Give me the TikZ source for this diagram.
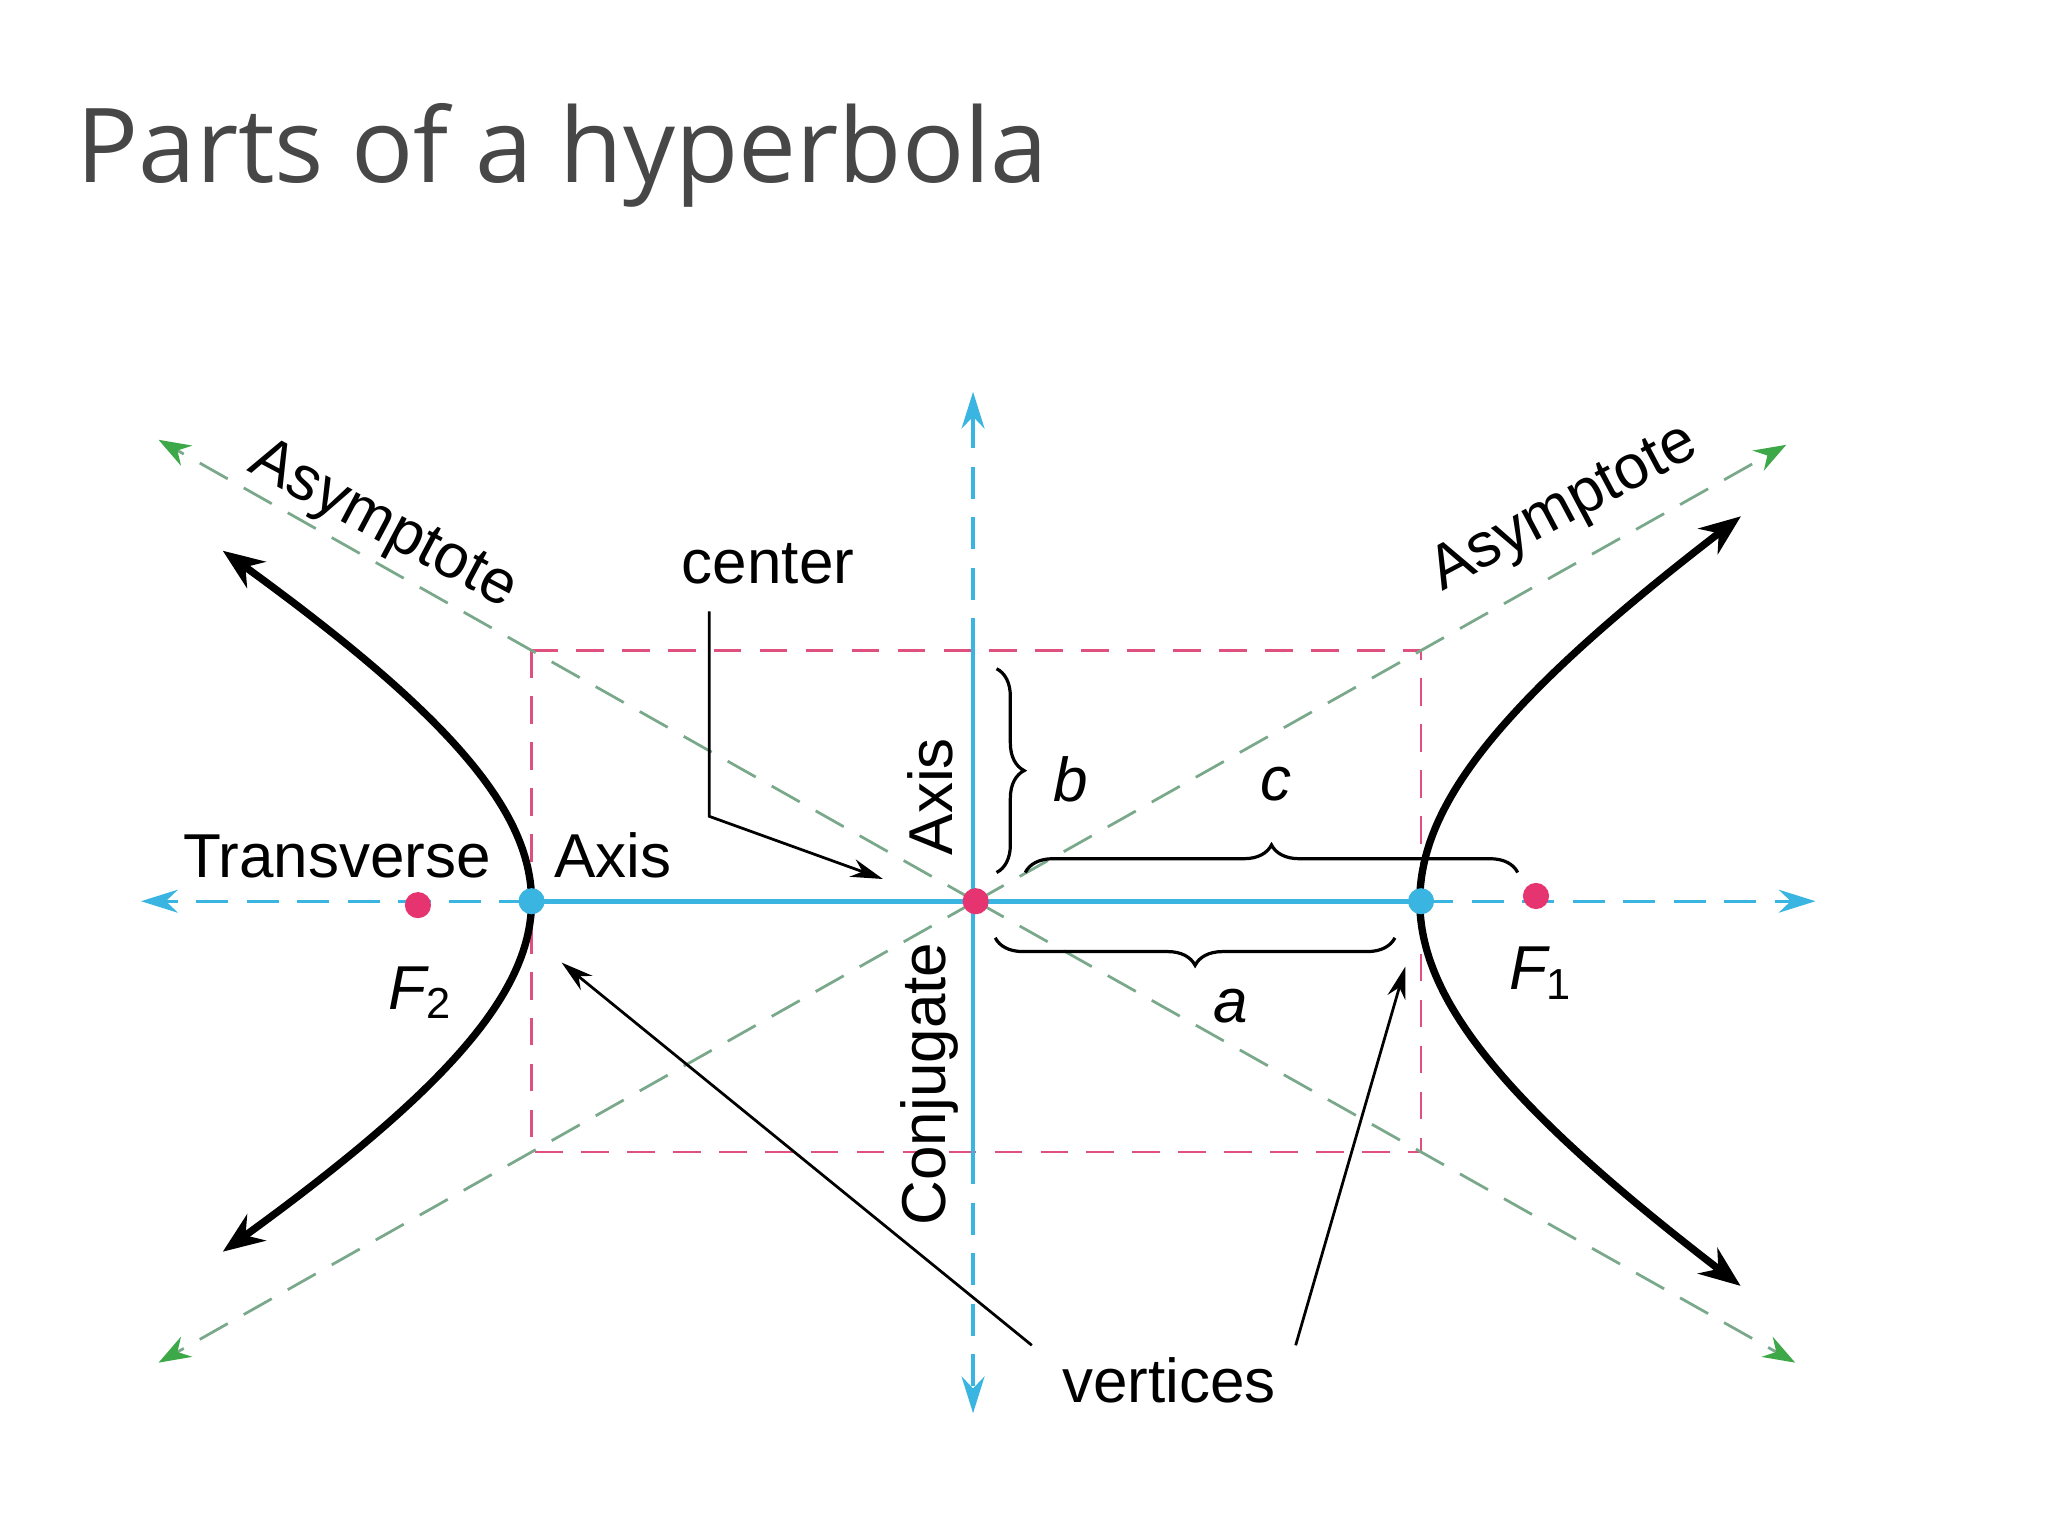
\documentclass[tikz,border=0pt]{standalone}
\usepackage{fontspec}
\setmainfont{Liberation Sans}
\newfontfamily\titlefont{Open Sans}
\usetikzlibrary{arrows.meta,decorations.pathreplacing,calc}
\definecolor{cy}{HTML}{3AB4E0}
\definecolor{pk}{HTML}{E0507E}
\definecolor{gr}{HTML}{7AA88A}
\definecolor{gra}{HTML}{3CA848}
\definecolor{dot}{HTML}{E63470}
\tikzset{
 lbl/.style={font=\fontsize{13.5}{14}\selectfont, inner sep=1pt},
 asy/.style={gr, dashed, dash pattern=on 7pt off 4pt, line width=0.6pt, -{Stealth[length=7pt,width=5pt,gra]}},
 branch/.style={line width=1.6pt},
 ptr/.style={line width=0.6pt,-{Stealth[length=7pt,width=4pt]}},
 brc/.style={decorate, decoration={brace, amplitude=6pt}, line width=0.7pt}
}
\begin{document}
\begin{tikzpicture}[x=0.01cm,y=-0.01cm]
\useasboundingbox (0,0) rectangle (1568,1176);
\fill[white] (0,0) rectangle (1568,1176);
\node[anchor=base west, inner sep=0, text=black!72, font=\titlefont\fontsize{22.5}{23}\selectfont] (title) at (58,140) {Parts of a hyperbola};
\coordinate (O) at (747,690);
\coordinate (V2) at (407,690);
\coordinate (V1) at (1088,690);
% box
\draw[pk, dashed, dash pattern=on 6pt off 4pt, line width=0.6pt] (407,498) rectangle (1088,882);
% asymptotes
\draw[asy] (O) -- ($(O)!1.84!(407,498)$);
\draw[asy] (O) -- ($(O)!1.84!(1088,882)$);
\draw[asy] (O) -- ($(O)!1.82!(1088,498)$);
\draw[asy] (O) -- ($(O)!1.84!(407,882)$);
% axes
\draw[cy, dashed, dash pattern=on 7pt off 4pt, line width=0.7pt, -{Stealth[length=8pt,width=5pt]}] (V2) -- (108,690);
\draw[cy, dashed, dash pattern=on 7pt off 4pt, line width=0.7pt, -{Stealth[length=8pt,width=5pt]}] (V1) -- (1390,690);
\draw[cy, line width=1pt] (V2) -- (V1);
\draw[cy, dashed, dash pattern=on 7pt off 4pt, line width=0.7pt, -{Stealth[length=8pt,width=5pt]}] (745,498) -- (745,300);
\draw[cy, dashed, dash pattern=on 7pt off 4pt, line width=0.7pt, -{Stealth[length=8pt,width=5pt]}] (745,882) -- (745,1082);
\draw[cy, line width=1pt] (745,498) -- (745,882);
% branches
\draw[branch, <->, >={Stealth[length=9pt,width=7pt]}] plot[domain=-1.12:1.12, samples=60, smooth] ({747-340*cosh(\x)}, {690+196*sinh(\x)});
\draw[branch, <->, >={Stealth[length=9pt,width=7pt]}] plot[domain=-1.14:1.14, samples=60, smooth] ({747+340*cosh(\x)}, {690+210*sinh(\x)});
% points
\fill[dot] (O) circle (10);
\fill[dot] (320,693) circle (10);
\fill[dot] (1176,686) circle (10);
\fill[cy] (V2) circle (10);
\fill[cy] (V1) circle (10);
% labels
\node[lbl, rotate=-28] (asyL) at (293,403) {Asymptote};
\node[lbl, rotate=28] (asyR) at (1198,390) {Asymptote};
\node[lbl] (center) at (588,432) {center};
\draw[ptr] (543,468) -- (543,625) -- (676,673);
\node[lbl, anchor=base] (trans) at (258,672) {Transverse};
\node[lbl, anchor=base] (tax) at (469,672) {Axis};
\node[lbl, rotate=90] (cax) at (712,610) {Axis};
\node[lbl, rotate=90] (conj) at (712,830) {Conjugate};
\node[lbl] (F2) at (322,760) {\itshape F\textsubscript{\upshape 2}};
\node[lbl] (F1) at (1180,745) {\itshape F\textsubscript{\upshape 1}};
% braces
\draw[brc] (763,512) -- (763,668);
\node[lbl] (b) at (820,597) {\itshape b};
\draw[brc] (785,668) -- (1162,668);
\node[lbl] (c) at (977,600) {\itshape c};
\draw[brc] (1068,718) -- (762,718);
\node[lbl] (a) at (942,770) {\itshape a};
% vertices
\node[lbl] (vert) at (895,1057) {vertices};
\draw[ptr] (790,1030) -- (430,737);
\draw[ptr] (992,1030) -- (1076,740);
\end{tikzpicture}
\end{document}
